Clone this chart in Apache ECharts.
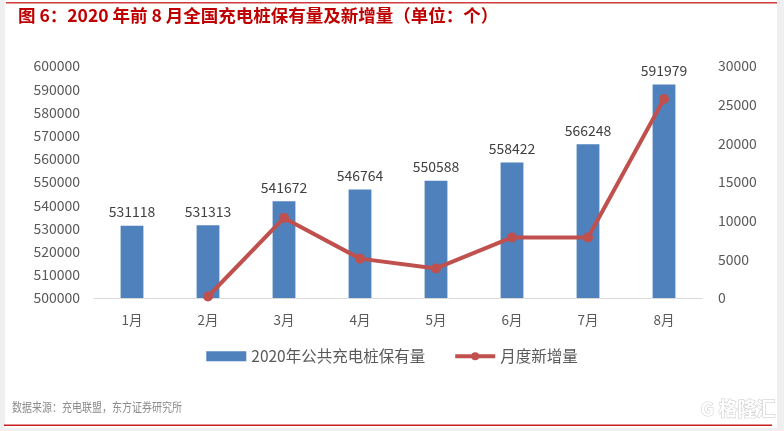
<!DOCTYPE html>
<html>
<head>
<meta charset="utf-8">
<script src="https://cdn.jsdelivr.net/npm/echarts@6/dist/echarts.min.js"></script>
<style>
  html, body { margin: 0; padding: 0; background: #efefef; }
  #chart { width: 784px; height: 431px; }
</style>
</head>
<body>
<div id="chart"></div>
<script>
const months = ['1月', '2月', '3月', '4月', '5月', '6月', '7月', '8月']
const stock = [531118, 531313, 541672, 546764, 550588, 558422, 566248, 591979]
const monthlyNew = [null, 195, 10359, 5092, 3824, 7834, 7826, 25731]

const stockName = '2020年公共充电桩保有量'
const newName = '月度新增量'
const font = '"Noto Sans CJK SC", "Noto Sans", sans-serif'

const chart = echarts.init(document.getElementById('chart'))

const option = {
  animation: false,
  textStyle: { fontFamily: font },
  graphic: [
    // white page area
    { type: 'rect', shape: { x: 5, y: 0, width: 772, height: 428 }, style: { fill: '#ffffff' }, z: -10 },
    { type: 'rect', shape: { x: 6, y: 2, width: 771, height: 1.5 }, style: { fill: '#d03a3a' } },
    { type: 'rect', shape: { x: 4, y: 424.5, width: 768, height: 1.5 }, style: { fill: '#c81e1e' } },
    {
      type: 'text', left: 18, top: 7,
      style: {
        text: '图 6：2020 年前 8 月全国充电桩保有量及新增量（单位：个）',
        fill: '#c00000', font: 'bold 17.5px ' + font
      }
    },
    {
      type: 'text', left: 12, top: 401, scaleY: 1.25,
      style: { text: '数据来源：充电联盟，东方证券研究所', fill: '#8c8c8c', font: '10px ' + font }
    },
    {
      type: 'text', right: 8, top: 399,
      style: { text: 'G 格隆汇', fill: '#ffffff', stroke: '#c8c8c8', lineWidth: 1, font: 'bold 19px ' + font }
    }
  ],
  grid: { left: 94, right: 82, top: 66, bottom: 133 },
  legend: {
    bottom: 62,
    left: 'center',
    itemWidth: 40,
    itemHeight: 10,
    itemGap: 28,
    textStyle: { fontSize: 15.5, color: '#595959', fontFamily: font },
    data: [
      { name: stockName, icon: 'rect' },
      { name: newName, lineStyle: { width: 4 } }
    ]
  },
  xAxis: {
    type: 'category',
    data: months,
    axisLine: { lineStyle: { color: '#d9d9d9', width: 1 } },
    axisTick: { show: false },
    axisLabel: { color: '#595959', fontSize: 13.5, margin: 15 }
  },
  yAxis: [
    {
      type: 'value',
      min: 500000, max: 600000, interval: 10000,
      splitLine: { show: false },
      axisLine: { show: false },
      axisTick: { show: false },
      axisLabel: { color: '#595959', fontSize: 14, margin: 14, formatter: v => String(v) }
    },
    {
      type: 'value',
      min: 0, max: 30000, interval: 5000,
      splitLine: { show: false },
      axisLine: { show: false },
      axisTick: { show: false },
      axisLabel: { color: '#595959', fontSize: 14, margin: 16, formatter: v => String(v) }
    }
  ],
  series: [
    {
      name: stockName,
      type: 'bar',
      data: stock,
      barWidth: '30%',
      itemStyle: { color: '#4f81bd' },
      label: {
        show: true,
        position: 'top',
        distance: 7,
        color: '#404040',
        fontSize: 14
      }
    },
    {
      name: newName,
      type: 'line',
      yAxisIndex: 1,
      data: monthlyNew,
      symbol: 'circle',
      symbolSize: 10,
      lineStyle: { color: '#c0504d', width: 4 },
      itemStyle: { color: '#c0504d' }
    }
  ]
}

chart.setOption(option)
</script>
</body>
</html>
